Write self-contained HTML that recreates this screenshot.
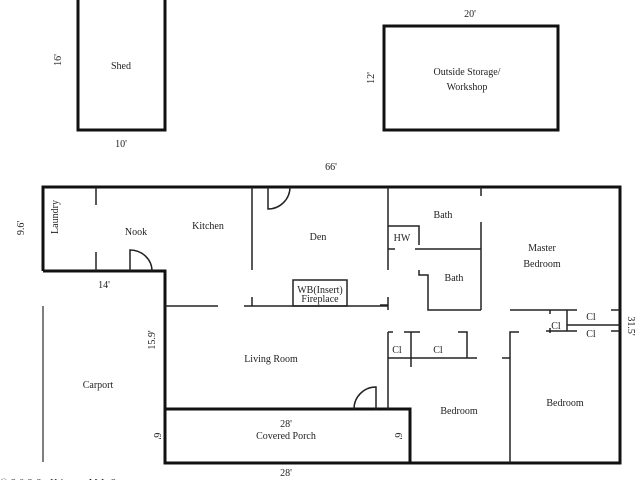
<!DOCTYPE html>
<html><head><style>
html,body{margin:0;padding:0;background:#fff;}
svg{display:block;}
text{font-family:"Liberation Serif",serif;font-size:10px;fill:#222;}
</style></head><body>
<svg width="640" height="480" viewBox="0 0 640 480" xmlns="http://www.w3.org/2000/svg">
<g fill="none" stroke="#111" stroke-width="3">
<rect x="78" y="-5" width="87" height="135"/>
<rect x="384" y="26" width="174" height="104"/>
<polyline points="43,271 43,187 620,187 620,463 165,463 165,271 43,271"/>
<polyline points="165,409 410,409 410,463"/>
</g>
<g fill="none" stroke="#222" stroke-width="1.5">
<line x1="96" y1="187" x2="96" y2="205"/>
<line x1="96" y1="252" x2="96" y2="271"/>
<path d="M130,271 L130,250 A22,21 0 0 1 152,271"/>
<path d="M268,187 L268,209 A22,22 0 0 0 290,187"/>
<line x1="252" y1="187" x2="252" y2="270"/>
<line x1="252" y1="297" x2="252" y2="306"/>
<line x1="165" y1="306" x2="218" y2="306"/>
<line x1="244" y1="306" x2="388" y2="306"/>
<rect x="293" y="280" width="54" height="26"/>
<line x1="388" y1="187" x2="388" y2="270"/>
<line x1="388" y1="297" x2="388" y2="310"/>
<line x1="380" y1="305" x2="388" y2="305"/>
<polyline points="388,226 419,226 419,245"/>
<line x1="388" y1="249" x2="395" y2="249"/>
<line x1="415" y1="249" x2="481" y2="249"/>
<line x1="481" y1="187" x2="481" y2="196"/>
<line x1="481" y1="222" x2="481" y2="310"/>
<polyline points="419,270 419,275 428,275 428,310 481,310"/>
<line x1="510" y1="310" x2="577" y2="310"/>
<line x1="567" y1="310" x2="567" y2="331"/>
<line x1="567" y1="325" x2="620" y2="325"/>
<line x1="546" y1="331" x2="577" y2="331"/>
<line x1="550" y1="310" x2="550" y2="314"/>
<line x1="550" y1="328" x2="550" y2="333"/>
<line x1="611" y1="310" x2="620" y2="310"/>
<line x1="611" y1="331" x2="620" y2="331"/>
<line x1="388" y1="332" x2="388" y2="409"/>
<line x1="388" y1="332" x2="393" y2="332"/>
<line x1="388" y1="358" x2="477" y2="358"/>
<line x1="411" y1="332" x2="411" y2="367"/>
<line x1="404" y1="332" x2="420" y2="332"/>
<polyline points="458,332 467,332 467,358"/>
<polyline points="519,332 510,332 510,463"/>
<line x1="502" y1="358" x2="510" y2="358"/>
<path d="M376,409 L376,387 A22,22 0 0 0 354,409"/>
<line x1="43" y1="306" x2="43" y2="462" stroke="#555"/>
</g>
<g text-anchor="middle">
<text x="121" y="69">Shed</text>
<text x="121" y="147">10'</text>
<text transform="translate(61,60) rotate(-90)">16'</text>
<text x="470" y="17">20'</text>
<text transform="translate(374,78) rotate(-90)">12'</text>
<text x="467" y="75">Outside Storage/</text>
<text x="467" y="90">Workshop</text>
<text x="331" y="170">66'</text>
<text transform="translate(24,228) rotate(-90)">9.6'</text>
<text transform="translate(58,217) rotate(-90)">Laundry</text>
<text x="136" y="235">Nook</text>
<text x="208" y="229">Kitchen</text>
<text x="318" y="240">Den</text>
<text x="443" y="218">Bath</text>
<text x="402" y="241">HW</text>
<text x="454" y="281">Bath</text>
<text x="542" y="251">Master</text>
<text x="542" y="267">Bedroom</text>
<text x="320" y="293">WB(Insert)</text>
<text x="320" y="302">Fireplace</text>
<text x="104" y="288">14'</text>
<text x="556" y="329">Cl</text>
<text x="591" y="320">Cl</text>
<text x="591" y="337">Cl</text>
<text transform="translate(628,326) rotate(90)">31.5'</text>
<text transform="translate(155,340) rotate(-90)">15.9'</text>
<text x="271" y="362">Living Room</text>
<text x="98" y="388">Carport</text>
<text x="397" y="353">Cl</text>
<text x="438" y="353">Cl</text>
<text x="459" y="414">Bedroom</text>
<text x="565" y="406">Bedroom</text>
<text x="286" y="427">28'</text>
<text x="286" y="439">Covered Porch</text>
<text transform="translate(154,436) rotate(90)">6'</text>
<text transform="translate(395,436) rotate(90)">6'</text>
<text x="286" y="476">28'</text>
<text x="0" y="486" text-anchor="start" font-size="16" textLength="116">©2026 Hive MLS</text>
</g>
</svg>
</body></html>
